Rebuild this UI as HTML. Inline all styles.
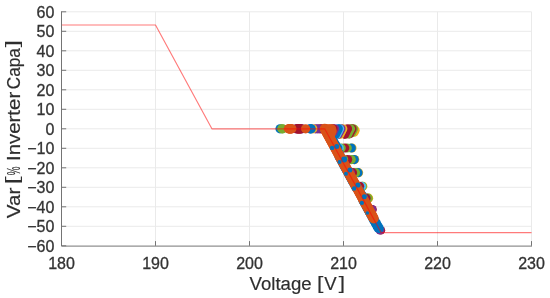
<!DOCTYPE html>
<html lang="en"><head><meta charset="utf-8"><title>Volt-Var plot</title>
<style>html,body{margin:0;padding:0;background:#fff;overflow:hidden}svg{display:block}</style>
</head><body>
<svg width="550" height="298" viewBox="0 0 550 298">
<rect width="550" height="298" fill="#fff"/>
<path d="M155.50 11.80V245.80M249.50 11.80V245.80M343.50 11.80V245.80M437.50 11.80V245.80M531.50 11.80V245.80M61.50 226.30H531.50M61.50 206.80H531.50M61.50 187.30H531.50M61.50 167.80H531.50M61.50 148.30H531.50M61.50 128.80H531.50M61.50 109.30H531.50M61.50 89.80H531.50M61.50 70.30H531.50M61.50 50.80H531.50M61.50 31.30H531.50M61.50 11.80H531.50" stroke="#eaeaea" stroke-width="1" fill="none"/>
<g><circle cx="355.1" cy="130.2" r="4.6" fill="#EDB120"/><circle cx="354.1" cy="132.2" r="4.6" fill="#EDB120"/><circle cx="353.5" cy="128.8" r="4.6" fill="#77AC30"/><circle cx="352.5" cy="130.8" r="4.6" fill="#77AC30"/><circle cx="351.5" cy="132.8" r="4.6" fill="#77AC30"/><circle cx="352.0" cy="128.8" r="4.6" fill="#A2142F"/><circle cx="350.8" cy="131.3" r="4.6" fill="#A2142F"/><circle cx="349.5" cy="133.8" r="4.6" fill="#A2142F"/><circle cx="350.5" cy="128.8" r="4.6" fill="#77AC30"/><circle cx="349.2" cy="131.3" r="4.6" fill="#77AC30"/><circle cx="347.9" cy="134.0" r="4.6" fill="#77AC30"/><circle cx="347.5" cy="128.8" r="4.6" fill="#A2142F"/><circle cx="346.2" cy="131.3" r="4.6" fill="#A2142F"/><circle cx="344.8" cy="134.3" r="4.6" fill="#A2142F"/><circle cx="342.8" cy="128.8" r="4.6" fill="#EDB120"/><circle cx="341.6" cy="131.3" r="4.6" fill="#EDB120"/><circle cx="340.1" cy="134.3" r="4.6" fill="#EDB120"/><circle cx="341.0" cy="128.8" r="4.6" fill="#7E2F8E"/><circle cx="339.8" cy="131.3" r="4.6" fill="#7E2F8E"/><circle cx="338.2" cy="134.3" r="4.6" fill="#7E2F8E"/><circle cx="339.6" cy="128.8" r="4.6" fill="#4DBEEE"/><circle cx="338.4" cy="131.3" r="4.6" fill="#4DBEEE"/><circle cx="336.9" cy="134.3" r="4.6" fill="#4DBEEE"/><circle cx="338.3" cy="128.8" r="4.6" fill="#0072BD"/><circle cx="337.1" cy="131.3" r="4.6" fill="#0072BD"/><circle cx="335.7" cy="134.0" r="4.6" fill="#0072BD"/><circle cx="334.6" cy="128.8" r="4.6" fill="#7E2F8E"/><circle cx="333.4" cy="131.3" r="4.6" fill="#7E2F8E"/><circle cx="332.3" cy="133.4" r="4.6" fill="#7E2F8E"/><circle cx="333.0" cy="128.8" r="4.6" fill="#A2142F"/><circle cx="332.0" cy="130.8" r="4.6" fill="#A2142F"/><circle cx="352.0" cy="148.0" r="4.6" fill="#EDB120"/><circle cx="351.3" cy="148.0" r="4.6" fill="#0072BD"/><circle cx="347.2" cy="148.0" r="4.6" fill="#77AC30"/><circle cx="344.7" cy="148.0" r="4.6" fill="#A2142F"/><circle cx="341.2" cy="148.0" r="4.6" fill="#77AC30"/><circle cx="339.2" cy="148.0" r="4.6" fill="#4DBEEE"/><circle cx="337.7" cy="148.0" r="4.6" fill="#0072BD"/><circle cx="354.7" cy="159.6" r="4.6" fill="#EDB120"/><circle cx="354.2" cy="159.6" r="4.6" fill="#0072BD"/><circle cx="351.2" cy="159.6" r="4.6" fill="#77AC30"/><circle cx="347.6" cy="159.6" r="4.6" fill="#A2142F"/><circle cx="343.6" cy="159.6" r="4.6" fill="#77AC30"/><circle cx="342.5" cy="159.6" r="4.6" fill="#0072BD"/><circle cx="358.6" cy="172.7" r="4.6" fill="#EDB120"/><circle cx="358.0" cy="172.7" r="4.6" fill="#0072BD"/><circle cx="355.5" cy="172.7" r="4.6" fill="#77AC30"/><circle cx="352.5" cy="172.7" r="4.6" fill="#A2142F"/><circle cx="350.5" cy="172.7" r="4.6" fill="#7E2F8E"/><circle cx="362.8" cy="186.3" r="4.6" fill="#EDB120"/><circle cx="362.3" cy="186.3" r="4.6" fill="#77AC30"/><circle cx="361.6" cy="186.3" r="4.6" fill="#4DBEEE"/><circle cx="359.5" cy="186.3" r="4.6" fill="#A2142F"/><circle cx="368.6" cy="198.2" r="4.6" fill="#EDB120"/><circle cx="368.0" cy="198.2" r="4.6" fill="#77AC30"/><circle cx="366.0" cy="198.2" r="4.6" fill="#A2142F"/><circle cx="372.2" cy="209.6" r="4.6" fill="#A2142F"/><circle cx="371.8" cy="209.6" r="4.6" fill="#7E2F8E"/><circle cx="280.0" cy="128.8" r="4.6" fill="#0072BD"/><circle cx="281.8" cy="128.8" r="4.6" fill="#77AC30"/><circle cx="282.8" cy="128.8" r="4.6" fill="#77AC30"/><circle cx="296.0" cy="128.8" r="4.6" fill="#7E2F8E"/><circle cx="302.0" cy="128.8" r="4.6" fill="#7E2F8E"/><circle cx="297.0" cy="128.8" r="4.6" fill="#A2142F"/><circle cx="297.5" cy="128.8" r="4.6" fill="#A2142F"/><circle cx="298.0" cy="128.8" r="4.6" fill="#A2142F"/><circle cx="298.5" cy="128.8" r="4.6" fill="#A2142F"/><circle cx="299.0" cy="128.8" r="4.6" fill="#A2142F"/><circle cx="299.5" cy="128.8" r="4.6" fill="#A2142F"/><circle cx="300.0" cy="128.8" r="4.6" fill="#A2142F"/><circle cx="300.5" cy="128.8" r="4.6" fill="#A2142F"/><circle cx="301.0" cy="128.8" r="4.6" fill="#A2142F"/><circle cx="322.0" cy="128.8" r="4.6" fill="#A2142F"/><circle cx="320.0" cy="128.8" r="4.6" fill="#A2142F"/><circle cx="317.8" cy="128.8" r="4.6" fill="#7E2F8E"/><circle cx="315.6" cy="128.8" r="4.6" fill="#7E2F8E"/><circle cx="312.8" cy="128.8" r="4.6" fill="#EDB120"/><circle cx="311.2" cy="128.8" r="4.6" fill="#0072BD"/><circle cx="310.6" cy="128.8" r="4.6" fill="#0072BD"/><circle cx="309.8" cy="128.8" r="4.6" fill="#0072BD"/><circle cx="288.4" cy="128.8" r="4.6" fill="#D95319"/><circle cx="288.9" cy="128.8" r="4.6" fill="#D95319"/><circle cx="289.4" cy="128.8" r="4.6" fill="#D95319"/><circle cx="289.9" cy="128.8" r="4.6" fill="#D95319"/><circle cx="290.4" cy="128.8" r="4.6" fill="#D95319"/><circle cx="290.9" cy="128.8" r="4.6" fill="#D95319"/><circle cx="291.4" cy="128.8" r="4.6" fill="#D95319"/><circle cx="291.9" cy="128.8" r="4.6" fill="#D95319"/><circle cx="305.6" cy="128.8" r="4.6" fill="#D95319"/><circle cx="329.9" cy="134.7" r="4.6" fill="#0072BD"/><circle cx="330.7" cy="136.2" r="4.6" fill="#0072BD"/><circle cx="331.6" cy="137.8" r="4.6" fill="#0072BD"/><circle cx="332.4" cy="139.3" r="4.6" fill="#0072BD"/><circle cx="333.3" cy="140.9" r="4.6" fill="#0072BD"/><circle cx="334.1" cy="142.5" r="4.6" fill="#0072BD"/><circle cx="335.0" cy="144.0" r="4.6" fill="#0072BD"/><circle cx="335.9" cy="145.6" r="4.6" fill="#0072BD"/><circle cx="335.7" cy="147.1" r="4.6" fill="#0072BD"/><circle cx="336.6" cy="148.7" r="4.6" fill="#0072BD"/><circle cx="337.4" cy="150.2" r="4.6" fill="#0072BD"/><circle cx="338.3" cy="151.8" r="4.6" fill="#0072BD"/><circle cx="339.1" cy="153.4" r="4.6" fill="#0072BD"/><circle cx="340.0" cy="154.9" r="4.6" fill="#0072BD"/><circle cx="339.0" cy="156.5" r="4.6" fill="#0072BD"/><circle cx="339.9" cy="158.1" r="4.6" fill="#0072BD"/><circle cx="340.7" cy="159.6" r="4.6" fill="#0072BD"/><circle cx="341.6" cy="161.2" r="4.6" fill="#0072BD"/><circle cx="342.4" cy="162.7" r="4.6" fill="#0072BD"/><circle cx="343.3" cy="164.3" r="4.6" fill="#0072BD"/><circle cx="344.1" cy="165.9" r="4.6" fill="#0072BD"/><circle cx="345.0" cy="167.4" r="4.6" fill="#0072BD"/><circle cx="345.8" cy="169.0" r="4.6" fill="#0072BD"/><circle cx="346.7" cy="170.5" r="4.6" fill="#0072BD"/><circle cx="347.5" cy="172.1" r="4.6" fill="#0072BD"/><circle cx="348.4" cy="173.7" r="4.6" fill="#0072BD"/><circle cx="349.2" cy="175.2" r="4.6" fill="#0072BD"/><circle cx="350.1" cy="176.8" r="4.6" fill="#0072BD"/><circle cx="350.9" cy="178.3" r="4.6" fill="#0072BD"/><circle cx="351.8" cy="179.9" r="4.6" fill="#0072BD"/><circle cx="352.6" cy="181.5" r="4.6" fill="#0072BD"/><circle cx="353.5" cy="183.0" r="4.6" fill="#0072BD"/><circle cx="354.3" cy="184.6" r="4.6" fill="#0072BD"/><circle cx="355.2" cy="186.1" r="4.6" fill="#0072BD"/><circle cx="356.0" cy="187.7" r="4.6" fill="#0072BD"/><circle cx="358.7" cy="189.3" r="4.6" fill="#0072BD"/><circle cx="359.5" cy="190.8" r="4.6" fill="#0072BD"/><circle cx="360.4" cy="192.4" r="4.6" fill="#0072BD"/><circle cx="361.2" cy="193.9" r="4.6" fill="#0072BD"/><circle cx="362.1" cy="195.5" r="4.6" fill="#0072BD"/><circle cx="362.9" cy="197.1" r="4.6" fill="#0072BD"/><circle cx="363.8" cy="198.6" r="4.6" fill="#0072BD"/><circle cx="362.8" cy="200.2" r="4.6" fill="#0072BD"/><circle cx="363.7" cy="201.7" r="4.6" fill="#0072BD"/><circle cx="364.6" cy="203.3" r="4.6" fill="#0072BD"/><circle cx="365.4" cy="204.8" r="4.6" fill="#0072BD"/><circle cx="366.3" cy="206.4" r="4.6" fill="#0072BD"/><circle cx="367.1" cy="208.0" r="4.6" fill="#0072BD"/><circle cx="368.0" cy="209.5" r="4.6" fill="#0072BD"/><circle cx="368.8" cy="211.1" r="4.6" fill="#0072BD"/><circle cx="369.7" cy="212.6" r="4.6" fill="#0072BD"/><circle cx="370.5" cy="214.2" r="4.6" fill="#0072BD"/><circle cx="371.4" cy="215.8" r="4.6" fill="#0072BD"/><circle cx="372.2" cy="217.3" r="4.6" fill="#0072BD"/><circle cx="373.1" cy="218.9" r="4.6" fill="#0072BD"/><circle cx="373.9" cy="220.4" r="4.6" fill="#0072BD"/><circle cx="374.8" cy="222.0" r="4.6" fill="#0072BD"/><circle cx="375.6" cy="223.6" r="4.6" fill="#0072BD"/><circle cx="376.5" cy="225.1" r="4.6" fill="#0072BD"/><circle cx="377.3" cy="226.7" r="4.6" fill="#0072BD"/><circle cx="378.2" cy="228.2" r="4.6" fill="#0072BD"/><circle cx="380.9" cy="230.2" r="4.3" fill="#A2142F"/><circle cx="380.0" cy="230.0" r="4.5" fill="#7E2F8E"/><circle cx="379.2" cy="228.6" r="4.6" fill="#0072BD"/><circle cx="378.5" cy="227.5" r="4.6" fill="#0072BD"/><circle cx="377.9" cy="226.3" r="4.6" fill="#0072BD"/><circle cx="377.3" cy="225.1" r="4.6" fill="#0072BD"/><circle cx="376.4" cy="223.6" r="4.6" fill="#0072BD"/><circle cx="375.6" cy="222.0" r="4.6" fill="#0072BD"/><circle cx="374.7" cy="220.4" r="4.6" fill="#0072BD"/><circle cx="324.7" cy="128.8" r="5.0" fill="#D95319"/><circle cx="325.2" cy="129.8" r="5.0" fill="#D95319"/><circle cx="325.8" cy="130.8" r="5.0" fill="#D95319"/><circle cx="326.3" cy="131.7" r="5.0" fill="#D95319"/><circle cx="326.8" cy="132.7" r="5.0" fill="#D95319"/><circle cx="327.4" cy="133.7" r="5.0" fill="#D95319"/><circle cx="327.9" cy="134.7" r="5.0" fill="#D95319"/><circle cx="328.4" cy="135.6" r="5.0" fill="#D95319"/><circle cx="329.0" cy="136.6" r="5.0" fill="#D95319"/><circle cx="329.5" cy="137.6" r="5.0" fill="#D95319"/><circle cx="330.0" cy="138.6" r="5.0" fill="#D95319"/><circle cx="330.6" cy="139.5" r="5.0" fill="#D95319"/><circle cx="331.1" cy="140.5" r="5.0" fill="#D95319"/><circle cx="331.6" cy="141.5" r="5.0" fill="#D95319"/><circle cx="332.1" cy="142.5" r="5.0" fill="#D95319"/><circle cx="332.7" cy="143.4" r="5.0" fill="#D95319"/><circle cx="333.2" cy="144.4" r="5.0" fill="#D95319"/><circle cx="333.7" cy="145.4" r="5.0" fill="#D95319"/><circle cx="334.3" cy="146.4" r="5.0" fill="#D95319"/><circle cx="334.8" cy="147.3" r="5.0" fill="#D95319"/><circle cx="335.3" cy="148.3" r="5.0" fill="#D95319"/><circle cx="335.9" cy="149.3" r="5.0" fill="#D95319"/><circle cx="336.4" cy="150.2" r="5.0" fill="#D95319"/><circle cx="336.9" cy="151.2" r="5.0" fill="#D95319"/><circle cx="337.5" cy="152.2" r="5.0" fill="#D95319"/><circle cx="338.0" cy="153.2" r="5.0" fill="#D95319"/><circle cx="338.5" cy="154.2" r="5.0" fill="#D95319"/><circle cx="339.1" cy="155.1" r="5.0" fill="#D95319"/><circle cx="339.6" cy="156.1" r="5.0" fill="#D95319"/><circle cx="340.1" cy="157.1" r="5.0" fill="#D95319"/><circle cx="340.7" cy="158.1" r="5.0" fill="#D95319"/><circle cx="341.2" cy="159.0" r="5.0" fill="#D95319"/><circle cx="341.7" cy="160.0" r="5.0" fill="#D95319"/><circle cx="342.3" cy="161.0" r="5.0" fill="#D95319"/><circle cx="342.8" cy="162.0" r="5.0" fill="#D95319"/><circle cx="343.3" cy="162.9" r="5.0" fill="#D95319"/><circle cx="343.9" cy="163.9" r="5.0" fill="#D95319"/><circle cx="344.4" cy="164.9" r="5.0" fill="#D95319"/><circle cx="344.9" cy="165.9" r="5.0" fill="#D95319"/><circle cx="345.5" cy="166.8" r="5.0" fill="#D95319"/><circle cx="346.0" cy="167.8" r="5.0" fill="#D95319"/><circle cx="346.5" cy="168.8" r="5.0" fill="#D95319"/><circle cx="347.0" cy="169.8" r="5.0" fill="#D95319"/><circle cx="347.6" cy="170.7" r="5.0" fill="#D95319"/><circle cx="348.1" cy="171.7" r="5.0" fill="#D95319"/><circle cx="348.6" cy="172.7" r="5.0" fill="#D95319"/><circle cx="349.2" cy="173.7" r="5.0" fill="#D95319"/><circle cx="349.7" cy="174.6" r="5.0" fill="#D95319"/><circle cx="350.2" cy="175.6" r="5.0" fill="#D95319"/><circle cx="350.8" cy="176.6" r="5.0" fill="#D95319"/><circle cx="351.3" cy="177.6" r="5.0" fill="#D95319"/><circle cx="351.8" cy="178.5" r="5.0" fill="#D95319"/><circle cx="352.4" cy="179.5" r="5.0" fill="#D95319"/><circle cx="352.9" cy="180.5" r="5.0" fill="#D95319"/><circle cx="353.4" cy="181.5" r="5.0" fill="#D95319"/><circle cx="354.0" cy="182.4" r="5.0" fill="#D95319"/><circle cx="354.5" cy="183.4" r="5.0" fill="#D95319"/><circle cx="355.0" cy="184.4" r="5.0" fill="#D95319"/><circle cx="355.6" cy="185.4" r="5.0" fill="#D95319"/><circle cx="356.1" cy="186.3" r="5.0" fill="#D95319"/><circle cx="356.6" cy="187.3" r="5.0" fill="#D95319"/><circle cx="357.2" cy="188.3" r="5.0" fill="#D95319"/><circle cx="357.7" cy="189.2" r="5.0" fill="#D95319"/><circle cx="358.2" cy="190.2" r="5.0" fill="#D95319"/><circle cx="358.8" cy="191.2" r="5.0" fill="#D95319"/><circle cx="359.3" cy="192.2" r="5.0" fill="#D95319"/><circle cx="359.8" cy="193.2" r="5.0" fill="#D95319"/><circle cx="360.3" cy="194.1" r="5.0" fill="#D95319"/><circle cx="360.9" cy="195.1" r="5.0" fill="#D95319"/><circle cx="361.4" cy="196.1" r="5.0" fill="#D95319"/><circle cx="361.9" cy="197.1" r="5.0" fill="#D95319"/><circle cx="362.5" cy="198.0" r="5.0" fill="#D95319"/><circle cx="363.0" cy="199.0" r="5.0" fill="#D95319"/><circle cx="363.5" cy="200.0" r="5.0" fill="#D95319"/><circle cx="364.1" cy="200.9" r="5.0" fill="#D95319"/><circle cx="364.6" cy="201.9" r="5.0" fill="#D95319"/><circle cx="365.1" cy="202.9" r="5.0" fill="#D95319"/><circle cx="365.7" cy="203.9" r="5.0" fill="#D95319"/><circle cx="366.2" cy="204.9" r="5.0" fill="#D95319"/><circle cx="366.7" cy="205.8" r="5.0" fill="#D95319"/><circle cx="367.3" cy="206.8" r="5.0" fill="#D95319"/><circle cx="367.8" cy="207.8" r="5.0" fill="#D95319"/><circle cx="368.3" cy="208.8" r="5.0" fill="#D95319"/><circle cx="368.9" cy="209.7" r="5.0" fill="#D95319"/><circle cx="369.4" cy="210.7" r="5.0" fill="#D95319"/><circle cx="369.9" cy="211.7" r="5.0" fill="#D95319"/><circle cx="370.5" cy="212.7" r="5.0" fill="#D95319"/><circle cx="371.0" cy="213.6" r="5.0" fill="#D95319"/><circle cx="371.5" cy="214.6" r="5.0" fill="#D95319"/><circle cx="372.1" cy="215.6" r="5.0" fill="#D95319"/><circle cx="372.6" cy="216.6" r="5.0" fill="#D95319"/><circle cx="373.1" cy="217.5" r="5.0" fill="#D95319"/><circle cx="373.7" cy="218.5" r="5.0" fill="#D95319"/><circle cx="326.0" cy="128.8" r="4.6" fill="#D95319"/><circle cx="328.0" cy="128.8" r="4.6" fill="#D95319"/><circle cx="330.0" cy="128.8" r="4.6" fill="#D95319"/><circle cx="331.6" cy="128.8" r="4.6" fill="#D95319"/><circle cx="329.0" cy="131.7" r="4.6" fill="#D95319"/><circle cx="331.0" cy="133.9" r="4.6" fill="#D95319"/><circle cx="332.2" cy="131.1" r="4.6" fill="#D95319"/><circle cx="330.0" cy="136.6" r="4.6" fill="#D95319"/><circle cx="332.1" cy="147.9" r="2.2" fill="#0072BD"/><circle cx="336.7" cy="146.4" r="2.5" fill="#0072BD"/><circle cx="344.1" cy="159.6" r="3.0" fill="#0072BD"/><circle cx="339.6" cy="162.0" r="2.0" fill="#0072BD"/><circle cx="349.9" cy="170.1" r="2.5" fill="#0072BD"/><circle cx="346.0" cy="173.7" r="2.0" fill="#0072BD"/><circle cx="357.9" cy="185.0" r="2.6" fill="#0072BD"/><circle cx="354.1" cy="188.5" r="2.2" fill="#0072BD"/><circle cx="364.3" cy="196.7" r="2.5" fill="#0072BD"/><circle cx="361.9" cy="202.9" r="2.1" fill="#0072BD"/><circle cx="367.3" cy="213.0" r="1.8" fill="#0072BD"/></g>
<path d="M61.50 24.96 L155.50 24.96 L211.90 128.80 L324.70 128.80 L381.10 232.64 L531.50 232.64" stroke="#ff0000" stroke-opacity="0.52" stroke-width="1.15" fill="none" stroke-linejoin="round"/>
<path d="M61.50 11.30V246.10H532.00M61.50 245.80v-4.7M155.50 245.80v-4.7M249.50 245.80v-4.7M343.50 245.80v-4.7M437.50 245.80v-4.7M531.50 245.80v-4.7M61.50 245.80h4.7M61.50 226.30h4.7M61.50 206.80h4.7M61.50 187.30h4.7M61.50 167.80h4.7M61.50 148.30h4.7M61.50 128.80h4.7M61.50 109.30h4.7M61.50 89.80h4.7M61.50 70.30h4.7M61.50 50.80h4.7M61.50 31.30h4.7M61.50 11.80h4.7" stroke="#747474" stroke-width="1" fill="none"/>
<g font-family="'Liberation Sans', Arial, sans-serif" font-size="16" fill="#333" stroke="#333" stroke-width="0.3">
<text x="54.3" y="251.6" text-anchor="end">−60</text>
<text x="54.3" y="232.1" text-anchor="end">−50</text>
<text x="54.3" y="212.6" text-anchor="end">−40</text>
<text x="54.3" y="193.1" text-anchor="end">−30</text>
<text x="54.3" y="173.6" text-anchor="end">−20</text>
<text x="54.3" y="154.1" text-anchor="end">−10</text>
<text x="54.3" y="134.6" text-anchor="end">0</text>
<text x="54.3" y="115.1" text-anchor="end">10</text>
<text x="54.3" y="95.6" text-anchor="end">20</text>
<text x="54.3" y="76.1" text-anchor="end">30</text>
<text x="54.3" y="56.6" text-anchor="end">40</text>
<text x="54.3" y="37.1" text-anchor="end">50</text>
<text x="54.3" y="17.6" text-anchor="end">60</text>
<text x="61.5" y="269" text-anchor="middle">180</text>
<text x="155.5" y="269" text-anchor="middle">190</text>
<text x="249.5" y="269" text-anchor="middle">200</text>
<text x="343.5" y="269" text-anchor="middle">210</text>
<text x="437.5" y="269" text-anchor="middle">220</text>
<text x="531.5" y="269" text-anchor="middle">230</text>
</g>
<g font-family="'Liberation Sans', Arial, sans-serif" font-size="18" fill="#2e2e2e" stroke="#2e2e2e" stroke-width="0.18">
<text y="290.4"><tspan x="249.6" textLength="62" lengthAdjust="spacingAndGlyphs">Voltage</tspan> <tspan x="316.7" dy="-1.8" textLength="6.8" stroke="none" lengthAdjust="spacingAndGlyphs">[</tspan><tspan x="324.3" dy="1.8" textLength="12.4" lengthAdjust="spacingAndGlyphs">V</tspan><tspan x="338.4" dy="-1.8" textLength="6.8" stroke="none" lengthAdjust="spacingAndGlyphs">]</tspan></text>
<text transform="translate(20.2 0) rotate(-90)" y="0"><tspan x="-218.2" textLength="30.6" lengthAdjust="spacingAndGlyphs">Var</tspan> <tspan x="-184.4" dy="-1.8" textLength="8.2" stroke="none" lengthAdjust="spacingAndGlyphs">[</tspan><tspan x="-175.2" dy="1.8" textLength="8.8" lengthAdjust="spacingAndGlyphs">%</tspan> <tspan x="-161" textLength="69.2" lengthAdjust="spacingAndGlyphs">Inverter</tspan> <tspan x="-89.2" textLength="41" lengthAdjust="spacingAndGlyphs">Capa</tspan><tspan x="-47.6" dy="-1.8" textLength="7.6" stroke="none" lengthAdjust="spacingAndGlyphs">]</tspan></text>
</g>
</svg>
</body></html>
